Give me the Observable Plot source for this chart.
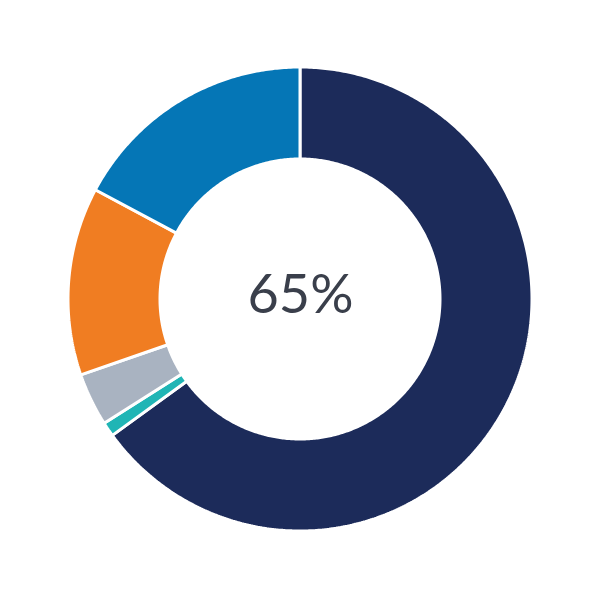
<!DOCTYPE html>
<html>
<head>
<meta charset="utf-8">
<script src="https://cdn.jsdelivr.net/npm/d3@7"></script>
<script src="https://cdn.jsdelivr.net/npm/@observablehq/plot@0.6"></script>
<style>
  html, body { margin: 0; padding: 0; background: #ffffff; }
</style>
</head>
<body>
<div id="chart"></div>
<script>
const categories = ["Segment A", "Segment B", "Segment C", "Segment D", "Segment E"];
const values = [65, 1.0, 3.7, 13.1, 17.2];
const colors = ["#1c2b5a", "#20b5b5", "#a9b3c1", "#f07d22", "#0576b6"];
const centerLabel = "65%";

const innerRatio = 140 / 232;
const pie = d3.pie().sort(null).value(d => d.value)
  (categories.map((c, i) => ({category: c, value: values[i]})));

const pts = [];
for (const s of pie) {
  const n = Math.max(4, Math.ceil((s.endAngle - s.startAngle) / 0.01));
  for (let k = 0; k <= n; k++) {
    const a = s.startAngle + (s.endAngle - s.startAngle) * k / n;
    pts.push({
      category: s.data.category,
      xi: innerRatio * Math.sin(a), yi: innerRatio * Math.cos(a),
      xo: Math.sin(a), yo: Math.cos(a)
    });
  }
}

const W = 600, H = 599, R = 232, CX = 300, CY = 299;
const chart = Plot.plot({
  width: W, height: H,
  margin: 0,
  x: {domain: [-CX / R, (W - CX) / R], axis: null},
  y: {domain: [-(H - CY) / R, CY / R], axis: null},
  color: {domain: categories, range: colors},
  marks: [
    Plot.area(pts, {
      x1: "xi", y1: "yi", x2: "xo", y2: "yo",
      z: "category", fill: {value: "category", scale: "color"},
      stroke: "white", strokeWidth: 3, strokeLinejoin: "miter"
    }),
    Plot.text([centerLabel], {
      x: () => 0, y: () => 0, text: d => d,
      fontSize: 54, fontFamily: "Lato", fontWeight: 400,
      fill: "#3a3f4b", dy: -4
    })
  ]
});
document.getElementById("chart").append(chart);
</script>
</body>
</html>
